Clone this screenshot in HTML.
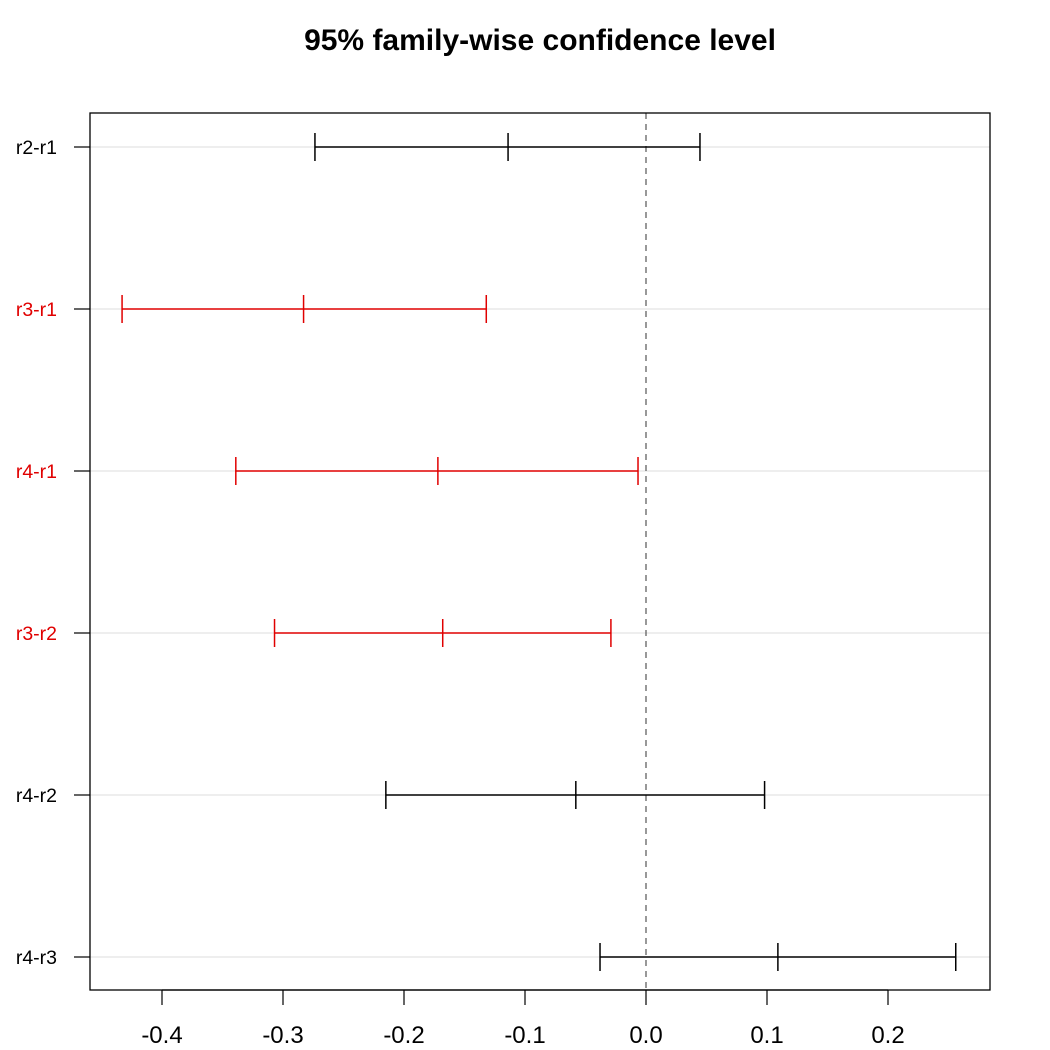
<!DOCTYPE html>
<html><head><meta charset="utf-8"><style>
html,body{margin:0;padding:0;background:#fff;}
svg{display:block;font-family:"Liberation Sans",Arial,sans-serif;}
</style></head><body>
<svg id="chart" width="1050" height="1050" viewBox="0 0 1050 1050">
<text x="540" y="50" text-anchor="middle" font-size="30" font-weight="bold">95% family-wise confidence level</text>
<g id="grid"></g>
<line x1="646" y1="113" x2="646" y2="990" stroke="#555" stroke-width="1.2" stroke-dasharray="6,5"/>
<g id="marks"></g>
<rect x="90" y="113" width="900" height="877" fill="none" stroke="#000" stroke-width="1.3"/>
<g id="axis"></g>
</svg>
<script>
const categories = ["r2-r1","r3-r1","r4-r1","r3-r2","r4-r2","r4-r3"];
const lowerValues = [-0.2736,-0.433,-0.339,-0.307,-0.215,-0.038];
const centerValues = [-0.114,-0.283,-0.172,-0.168,-0.058,0.109];
const upperValues = [0.0446,-0.132,-0.0066,-0.029,0.098,0.256];
const significant = [false,true,true,true,false,false];
const xTicks = [-0.4,-0.3,-0.2,-0.1,0.0,0.1,0.2];
const xTickLabels = ["-0.4","-0.3","-0.2","-0.1","0.0","0.1","0.2"];

const NS="http://www.w3.org/2000/svg";
function xs(v){return 646+v*1210;}
function ys(i){return 147+i*162;}
function mk(tag,attrs,parent){const e=document.createElementNS(NS,tag);for(const k in attrs)e.setAttribute(k,attrs[k]);parent.appendChild(e);return e;}
const grid=document.getElementById('grid'),marks=document.getElementById('marks'),axis=document.getElementById('axis');
categories.forEach((c,i)=>{
  const y=ys(i);
  const g=mk('line',{x1:90,x2:990,y1:y,y2:y,stroke:'#dddddd','stroke-width':1},grid);
  
  
  const col=significant[i]?'#e00000':'#000';
  const grp=mk('g',{stroke:col,'stroke-width':1.5},marks);
  
  
  mk('line',{x1:xs(lowerValues[i]),x2:xs(upperValues[i]),y1:y,y2:y},grp);
  [lowerValues[i],centerValues[i],upperValues[i]].forEach(v=>{
    mk('line',{x1:xs(v),x2:xs(v),y1:y-14,y2:y+14},grp);
  });
  mk('line',{x1:74,x2:90,y1:y,y2:y,stroke:'#000','stroke-width':1.2},axis);
  const t=mk('text',{x:57,y:y+7,'text-anchor':'end','font-size':19.5,fill:col},axis);
  t.textContent=c;
  
  
});
xTicks.forEach((v,i)=>{
  const x=xs(v);
  mk('line',{x1:x,x2:x,y1:990,y2:1005,stroke:'#000','stroke-width':1.2},axis);
  const t=mk('text',{x:x,y:1043,'text-anchor':'middle','font-size':24},axis);
  t.textContent=xTickLabels[i];
  
  
});
mk('line',{x1:xs(xTicks[0]),x2:xs(xTicks[xTicks.length-1]),y1:990,y2:990,stroke:'#000','stroke-width':1.2},axis);
</script>
</body></html>
